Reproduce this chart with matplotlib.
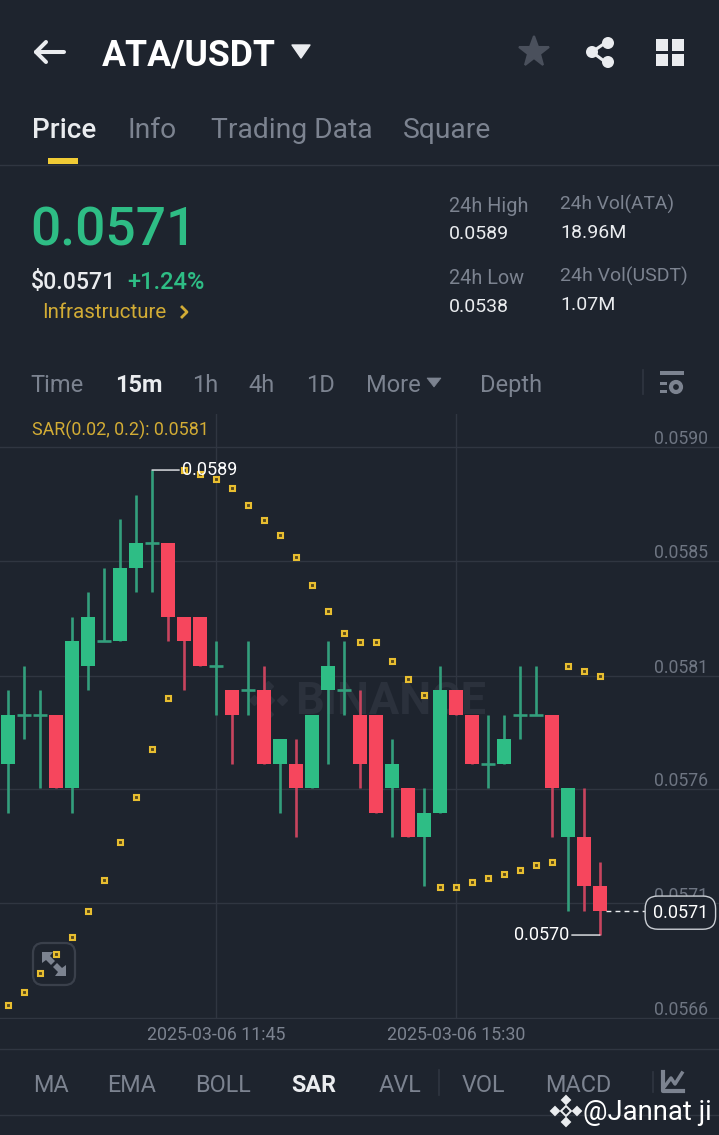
import matplotlib
matplotlib.use("Agg")
import matplotlib.pyplot as plt
import numpy as np
from matplotlib.patches import Rectangle, FancyBboxPatch, Polygon, Circle
from matplotlib.transforms import ScaledTranslation

plt.rcParams['font.family'] = ['Roboto', 'DejaVu Sans']

# ---------- data ----------
opens = [.0577,.0579,.0579,.0579,.0576,.0581,.0582,.0582,.0585,.0586,.0586,.0583,.0583,.0581,.0580,.0580,.0580,.0577,.0577,.0576,
         .0580,.0580,.0579,.0579,.0576,.0576,.0574,.0575,.0580,.0579,.0577,.0577,.0579,.0579,.0579,.0574,.0574,.0572]
closes = [.0579,.0579,.0579,.0576,.0582,.0583,.0582,.0585,.0586,.0586,.0583,.0582,.0581,.0581,.0579,.0580,.0577,.0578,.0576,.0579,
          .0581,.0580,.0577,.0575,.0577,.0574,.0575,.0580,.0579,.0577,.0577,.0578,.0579,.0579,.0576,.0576,.0572,.0571]
highs = [.0580,.0581,.0580,.0579,.0583,.0584,.0585,.0587,.0588,.0589,.0586,.0583,.0583,.0582,.0580,.0582,.0581,.0578,.0578,.0579,
         .0582,.0582,.0580,.0579,.0578,.0576,.0576,.0581,.0580,.0579,.0579,.0579,.0581,.0581,.0579,.0576,.0576,.0573]
lows = [.0575,.0578,.0576,.0576,.0575,.0580,.0582,.0582,.0584,.0584,.0582,.0580,.0581,.0579,.0577,.0579,.0577,.0575,.0574,.0576,
        .0577,.0579,.0576,.0575,.0574,.0574,.0572,.0575,.0579,.0577,.0576,.0577,.0578,.0579,.0574,.0571,.0571,.0570]
sar = [.056714,.056767,.056846,.056922,.056992,.057098,.057226,.05738,.057564,.057761,.057968,
       .0589,.058884,.058863,.058826,.058757,.058696,.058634,.058544,.05843,.058325,.058234,.058198,.058198,.058119,.058047,.057982,
       .057197,.057197,.057216,.057234,.05725,.057267,.057286,.057299,
       .058099,.058079,.058059]
grid_prices = [.058994,.058528,.058060,.057597,.057129,.056663]
grid_labels = ['0.0590','0.0585','0.0581','0.0576','0.0571','0.0566']
time_ticks = [13, 28]
time_labels = ['2025-03-06 11:45', '2025-03-06 15:30']
last_price = .0571
high_label, low_label = '0.0589', '0.0570'
top_tabs = [('Price',32,True),('Info',127,False),('Trading Data',211,False),('Square',403,False)]
intervals = [('Time',30,False),('15m',115,True),('1h',192,False),('4h',248,False),('1D',306,False),('More',366,False),('Depth',480,False)]
indicators = [('MA',33,False),('EMA',107,False),('BOLL',195,False),('SAR',291,True),('AVL',379,False),('VOL',462,False),('MACD',545,False)]

# ---------- style ----------
BG = '#1E242E'; GRID = '#303641'; GREY = '#7C8390'; WHITE = '#EAECEF'
GREEN = '#2EBD85'; RED = '#F6465D'; WGREEN = '#339F7C'; WRED = '#C8445E'
YEL = '#F0CB35'; GOLD = '#D2AC35'
PX = 0.72

fig = plt.figure(figsize=(7.19, 11.35), dpi=100, facecolor=BG)
ui = fig.add_axes([0, 0, 1, 1], zorder=1)
ui.set_xlim(0, 719); ui.set_ylim(1135, 0); ui.axis('off')

def t(x, y, s, size, color=GREY, weight='normal', ha='left', **kw):
    return ui.text(x, y, s, fontsize=size, color=color, fontweight=weight, ha=ha, va='baseline', **kw)

# header
ui.plot([36, 64], [52, 52], color=WHITE, lw=2.9, solid_capstyle='round')
ui.plot([46, 36, 46], [42, 52, 62], color=WHITE, lw=2.9, solid_capstyle='round', solid_joinstyle='round')
t(102, 66, 'ATA/USDT', 25.7, '#FFFFFF', 'bold')
ui.add_patch(Polygon([(292, 45), (310, 45), (301, 58)], fc=WHITE, ec=WHITE, lw=1, joinstyle='round'))
ui.plot([534], [52], marker='*', ms=23, color='#4A505C', mec='#4A505C', mew=1.5)
for (a, b) in [((608, 41), (592, 52)), ((592, 52), (608, 64))]:
    ui.plot([a[0], b[0]], [a[1], b[1]], color=WHITE, lw=2.2)
for c in [(608, 43), (592, 52), (608, 62)]:
    ui.add_patch(Circle(c, 6, fc=WHITE, ec='none'))
for x in (656, 672):
    for y in (39, 54):
        ui.add_patch(Rectangle((x, y), 12, 11.5, fc=WHITE, ec='none'))

for s, x, active in top_tabs:
    t(x, 138, s, 20 if active else 20.3, WHITE if active else GREY, 'medium' if active else 'normal')
ui.add_patch(Rectangle((48, 158), 30, 6, fc=YEL, ec='none'))
ui.plot([0, 719], [164.5, 164.5], color=GRID, lw=1)

# price block
t(30, 246, '0.0571', 38.4, GREEN, 'medium')
t(31, 289, '$0.0571', 16.7, WHITE, 'medium')
t(127, 289, '+1.24%', 17, GREEN, 'medium')
t(42, 318, 'Infrastructure', 14.8, GOLD)
ui.plot([182, 187, 182], [307, 312, 317], color=GOLD, lw=2)
t(449, 212, '24h High', 14.3, GREY)
t(449, 239, '0.0589', 14, WHITE)
t(449, 284, '24h Low', 14.3, GREY)
t(449, 312, '0.0538', 14, WHITE)
t(560, 210, '24h Vol(ATA)', 13.8, GREY)
t(560, 238, '18.96M', 14, WHITE)
t(560, 282, '24h Vol(USDT)', 14, GREY)
t(560, 310, '1.07M', 14, WHITE)

# interval row
for s, x, active in intervals:
    t(x, 392, s, 17, WHITE if active else GREY, 'bold' if active else 'normal')
ui.add_patch(Polygon([(427, 378), (441, 378), (434, 387)], fc=GREY, ec=GREY, lw=.5))
ui.plot([643, 643], [370, 394], color=GRID, lw=1.2)
ui.add_patch(Rectangle((660, 371), 24, 3.5, fc=GREY, ec='none'))
ui.add_patch(Rectangle((660, 382), 7, 3, fc=GREY, ec='none'))
ui.add_patch(Rectangle((660, 390), 7, 3, fc=GREY, ec='none'))
ui.add_patch(Circle((676, 387), 5, fc=BG, ec=GREY, lw=3))

# watermark
WM = '#2B313C'
ui.plot([268], [700], marker='D', ms=6, color=WM)
for dx, dy in [(-14, 0), (14, 0), (0, -14), (0, 14)]:
    ui.plot([268 + dx], [700 + dy], marker='D', ms=5, color=WM)
t(295, 714, 'BINANCE', 32.5, WM, 'bold')

# expand button
ui.add_patch(FancyBboxPatch((37, 947), 34, 34, boxstyle='round,pad=4,rounding_size=10', fc='none', ec='#3A404B', lw=1.6))
ui.add_patch(Polygon([(42, 952), (53, 952), (50, 956), (55, 961), (51, 965), (46, 960), (42, 963)], fc='#7C8390', ec='none'))
ui.add_patch(Polygon([(66, 976), (55, 976), (58, 972), (53, 967), (57, 963), (62, 968), (66, 965)], fc='#7C8390', ec='none'))

# footer
for s, x, active in indicators:
    t(x, 1092, s, 16.8, WHITE if active else GREY, 'bold' if active else 'normal')
ui.plot([439, 439], [1070, 1095], color=GRID, lw=1.2)
ui.plot([653, 653], [1072, 1092], color=GRID, lw=1.2)
ui.plot([663, 663, 683], [1072, 1091, 1091], color=GREY, lw=3)
ui.plot([665, 671, 675, 682], [1086, 1078, 1084, 1073], color=GREY, lw=2.5)
ui.plot([0, 719], [1048.5, 1048.5], color=GRID, lw=1)
ui.plot([0, 719], [1115, 1115], color=GRID, lw=1)

# bottom credit
for (x, y, m) in [(566, 1111, 5.5), (566, 1100, 4), (566, 1122, 4), (555, 1111, 4), (577, 1111, 4)]:
    ui.plot([x], [y], marker='D', ms=m * .9, color=WHITE if m < 5 else BG, mec=WHITE, mew=1.4)
t(583, 1120, '@Jannat ji', 19.7, '#FFFFFF')

# ---------- chart ----------
ax = fig.add_axes([0, 1 - 1018 / 1135, 1, (1018 - 414) / 1135], zorder=2)
ax.patch.set_alpha(0)
ax.set_xlim(-0.5, 44.4375)
ax.set_ylim(0.056661, 0.059129)
for k in ('top', 'left', 'right'):
    ax.spines[k].set_visible(False)
ax.spines['bottom'].set_color(GRID)

ax.set_yticks(grid_prices, grid_labels)
ax.yaxis.tick_right()
ax.tick_params(axis='y', length=0, pad=-11 * PX, labelsize=12.7, labelcolor='#6E7582')
off = ScaledTranslation(0, -0.8 / 72, fig.dpi_scale_trans)
for lab in ax.get_yticklabels():
    lab.set_horizontalalignment('right')
    lab.set_verticalalignment('bottom')
    lab.set_transform(lab.get_transform() + off)
ax.set_xticks(time_ticks, time_labels)
ax.tick_params(axis='x', length=0, pad=8 * PX, labelsize=12.8, labelcolor=GREY)
ax.grid(True, color=GRID, lw=1)
ax.set_axisbelow(True)

idx = np.arange(len(opens))
o, c, h, l = map(np.array, (opens, closes, highs, lows))
up = c >= o
wick_colors = [WGREEN if u else WRED for u in up]
ax.vlines(idx, l, h, colors=wick_colors, lw=1.9, zorder=3)
BW = 0.875
body = c != o
ax.bar(idx[body], np.abs(c - o)[body], bottom=np.minimum(o, c)[body], width=BW,
       color=[GREEN if u else RED for u in up[body]], zorder=4)
ax.hlines(o[~body], idx[~body] - BW / 2, idx[~body] + BW / 2, colors=WGREEN, lw=1.9, zorder=4)

ax.plot(idx, sar, ls='none', marker='s', ms=3.6, mfc='#5A4A1C', mec='#E8BE30', mew=1.5, zorder=5)

ui2 = dict(color='#FFFFFF', fontsize=13)
ax.annotate(high_label, xy=(9, max(highs)), xytext=(30 * PX, 0), textcoords='offset points', ha='left', va='center',
            arrowprops=dict(arrowstyle='-', color=WHITE, lw=1, shrinkA=0, shrinkB=0, relpos=(0, .5)), zorder=6, **ui2)
ax.annotate(low_label, xy=(37, min(lows)), xytext=(-31 * PX, 0), textcoords='offset points', ha='right', va='center',
            arrowprops=dict(arrowstyle='-', color=WHITE, lw=1, shrinkA=0, shrinkB=0, relpos=(1, .5)), zorder=6, **ui2)
ax.hlines(last_price, 37.4, 41, colors=WHITE, lw=1, linestyles=(0, (3.5, 3)), zorder=5)
ax.annotate(f'{last_price:.4f}', xy=(1, last_price), xycoords=ax.get_yaxis_transform(), xytext=(-11 * PX, -1.5),
            textcoords='offset points', ha='right', va='center', color='#FFFFFF', fontsize=13, zorder=7,
            bbox=dict(boxstyle='round,pad=0.42,rounding_size=0.7', fc=BG, ec='#C9CDD3', lw=1))
ax.text(32 / 719, 1 - (430 - 414) / 604, 'SAR(0.02, 0.2): 0.0581', transform=ax.transAxes, color=GOLD,
        fontsize=12.9, va='center', ha='left')

fig.savefig('out.png', dpi=100, facecolor=BG)
